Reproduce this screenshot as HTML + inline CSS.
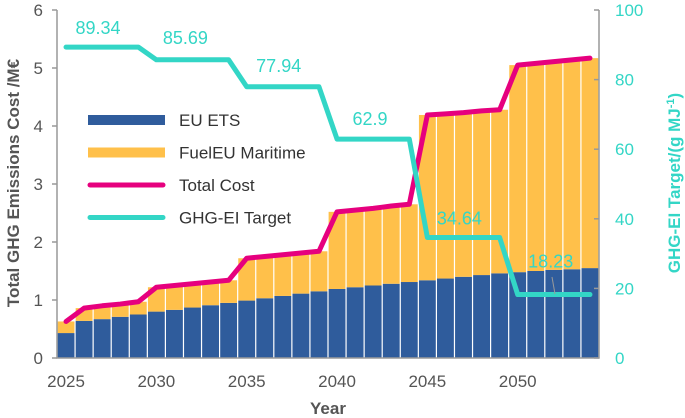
<!DOCTYPE html>
<html><head><meta charset="utf-8"><style>
html,body{margin:0;padding:0;background:#fff;}
svg{display:block;font-family:"Liberation Sans",Arial,sans-serif;}
</style></head><body>
<svg id="c" width="685" height="418"></svg>
<script>
const years=[2025,2026,2027,2028,2029,2030,2031,2032,2033,2034,2035,2036,2037,2038,2039,2040,2041,2042,2043,2044,2045,2046,2047,2048,2049,2050,2051,2052,2053,2054];
const euEts=[0.43,0.64,0.67,0.71,0.75,0.80,0.83,0.87,0.91,0.95,0.99,1.03,1.07,1.11,1.15,1.19,1.22,1.25,1.28,1.31,1.34,1.37,1.40,1.43,1.46,1.48,1.50,1.52,1.53,1.55];
const totalCost=[0.63,0.86,0.90,0.93,0.97,1.22,1.25,1.28,1.31,1.34,1.72,1.75,1.78,1.81,1.84,2.52,2.55,2.58,2.62,2.65,4.19,4.21,4.23,4.26,4.28,5.05,5.08,5.11,5.14,5.17];
const ghgTarget=[89.34,89.34,89.34,89.34,89.34,85.69,85.69,85.69,85.69,85.69,77.94,77.94,77.94,77.94,77.94,62.9,62.9,62.9,62.9,62.9,34.64,34.64,34.64,34.64,34.64,18.23,18.23,18.23,18.23,18.23];
const leftTicks=[0,1,2,3,4,5,6];
const rightTicks=[0,20,40,60,80,100];
const xTicks=[2025,2030,2035,2040,2045,2050];
const labelYears=[2025,2030,2035,2040,2045,2050];

const NS="http://www.w3.org/2000/svg";
const svg=document.getElementById('c');
const L=57,R=599,T=10,B=358;
const bw=(R-L)/years.length;
const xC=y=>L+(y-years[0]+0.5)*bw;
const yL=v=>B-(v/6)*(B-T);
const yR=v=>B-(v/100)*(B-T);
function mk(tag,attrs,parent){const e=document.createElementNS(NS,tag);for(const k in attrs)e.setAttribute(k,attrs[k]);(parent||svg).appendChild(e);return e;}

const gBars=mk('g',{});


years.forEach((yr,i)=>{
  const x=L+i*bw;
  const b=mk('rect',{x:x+0.6,y:yL(euEts[i]),width:bw-1.2,height:B-yL(euEts[i]),fill:'#2F5C9C'},gBars);
  
  
  const f=mk('rect',{x:x+0.6,y:yL(totalCost[i]),width:bw-1.2,height:yL(euEts[i])-yL(totalCost[i]),fill:'#FFC04A'},gBars);
  
  
});

const ax=mk('path',{d:`M${L} ${T}V${B}H${R}V${T}`,stroke:'#999',fill:'none','stroke-width':1.5});


leftTicks.forEach(v=>{
  mk('line',{x1:L-5,x2:L,y1:yL(v),y2:yL(v),stroke:'#999','stroke-width':1.5});
  const t=mk('text',{x:L-14,y:yL(v)+6,'text-anchor':'end','font-size':17,fill:'#555'});
  t.textContent=v;
  
  
});
rightTicks.forEach(v=>{
  mk('line',{x1:R,x2:R-5,y1:yR(v),y2:yR(v),stroke:'#999','stroke-width':1.5});
  const t=mk('text',{x:R+16,y:yR(v)+6,'text-anchor':'start','font-size':17,fill:'#33D6C6'});
  t.textContent=v;
  
  
});
xTicks.forEach(v=>{
  const t=mk('text',{x:xC(v),y:387,'text-anchor':'middle','font-size':17,fill:'#555'});
  t.textContent=v;
  
  
});

const tc=mk('polyline',{points:years.map((y,i)=>xC(y)+','+yL(totalCost[i])).join(' '),fill:'none',stroke:'#E6007E','stroke-width':5,'stroke-linejoin':'round','stroke-linecap':'round'});


const gl=mk('polyline',{points:years.map((y,i)=>xC(y)+','+yR(ghgTarget[i])).join(' '),fill:'none',stroke:'#33D6C6','stroke-width':5,'stroke-linejoin':'round','stroke-linecap':'round'});



const lblOff=[[32,-13],[29,-16],[32,-15],[33,-14],[32,-13],[33,-27]];
labelYears.forEach((yr,k)=>{
  const i=years.indexOf(yr);
  const t=mk('text',{x:xC(yr)+lblOff[k][0],y:yR(ghgTarget[i])+lblOff[k][1],'text-anchor':'middle','font-size':18,fill:'#33D6C6'});
  t.textContent=ghgTarget[i];
  
  
});
const ld=mk('line',{x1:552,y1:277,x2:555,y2:294,stroke:'#999','stroke-width':1});



const leg=[['EU ETS','rect','#2F5C9C'],['FuelEU Maritime','rect','#FFC04A'],['Total Cost','line','#E6007E'],['GHG-EI Target','line','#33D6C6']];
leg.forEach((e,k)=>{
  const y=120+k*32.5;
  const g=mk('g',{});
  
  
  if(e[1]=='rect')mk('rect',{x:88,y:y-5,width:77,height:10,fill:e[2]},g);
  else mk('line',{x1:90,x2:163,y1:y,y2:y,stroke:e[2],'stroke-width':5,'stroke-linecap':'round'},g);
  const t=mk('text',{x:179,y:y+6,'font-size':17,fill:'#333'},g);
  t.textContent=e[0];
});

const yt=mk('text',{x:0,y:0,transform:'translate(19,183) rotate(-90)','text-anchor':'middle','font-size':17,'font-weight':'bold',fill:'#555'});
yt.textContent='Total GHG Emissions Cost /M€';


const rt=mk('text',{x:0,y:0,transform:'translate(680,183) rotate(-90)','text-anchor':'middle','font-size':17,'font-weight':'bold',fill:'#33D6C6'});
rt.innerHTML='GHG-EI Target/(g MJ<tspan dy="-6" font-size="11">-1</tspan><tspan dy="6">)</tspan>';


const xt=mk('text',{x:328,y:414,'text-anchor':'middle','font-size':17,'font-weight':'bold',fill:'#555'});
xt.textContent='Year';


</script>
</body></html>
